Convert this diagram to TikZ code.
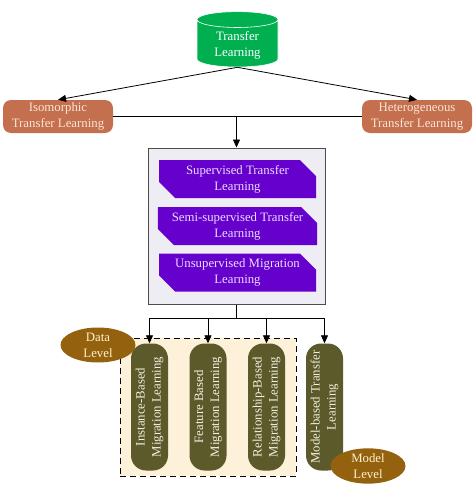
\documentclass[tikz,border=0pt]{standalone}
\usepackage{fontspec}
\setmainfont{Liberation Serif}
\usetikzlibrary{positioning, shapes.geometric, shapes.misc, arrows.meta}
\definecolor{dbgreen}{HTML}{00B050}
\definecolor{clay}{HTML}{C4704F}
\definecolor{clayText}{HTML}{FBE5D6}
\definecolor{violet}{HTML}{6600CC}
\definecolor{violetText}{HTML}{EBDDFF}
\definecolor{lavender}{HTML}{EEEDF3}
\definecolor{cream}{HTML}{FDF2D9}
\definecolor{moss}{HTML}{5C5A2B}
\definecolor{mossText}{HTML}{F2F0DE}
\definecolor{ochre}{HTML}{94620E}
\definecolor{ochreText}{HTML}{FFF2CC}
\tikzset{
every node/.style={font=\fontsize{12.8}{16}\selectfont, align=center},
db/.style={cylinder, shape border rotate=90, aspect=0.3, draw=white, line width=0.6pt,
  fill=dbgreen, text=white, minimum width=81pt, minimum height=52pt},
branch/.style={rounded corners=8pt, fill=clay, text=clayText, minimum width=110pt, minimum height=33pt, inner sep=1pt},
kind/.style={chamfered rectangle, chamfered rectangle corners={north east, south west},
  chamfered rectangle xsep=13pt, fill=violet, text=violetText, minimum width=157pt, minimum height=38pt, inner sep=1pt},
method/.style={rotate=90, rounded corners=15pt, fill=moss, text=mossText, minimum width=127pt, minimum height=37pt, inner sep=1pt},
level/.style={ellipse, fill=ochre, text=ochreText, minimum width=75pt, minimum height=35pt, inner sep=0pt},
arrow/.style={-{Triangle[length=8pt, width=7pt]}, line width=0.8pt},
}

\begin{document}
\begin{tikzpicture}[x=1pt, y=-1pt]
    \useasboundingbox (0,0) rectangle (474,488);

    %top
    \node[db] (root) at (237.5,45) {Transfer\\Learning};

    %two branches
    \node[branch] (iso) at (58,116.5) {Isomorphic\\Transfer Learning};
    \node[branch] (het) at (417,116.5) {Heterogeneous\\Transfer Learning};

    %group of kinds
    \node[draw=gray!60!black, line width=1pt, fill=lavender, minimum width=177pt, minimum height=156pt] (group) at (236.5,226) {};
    \node[kind] (sup)   at (237.5,179) {Supervised Transfer\\Learning};
    \node[kind] (semi)  at (237.5,226) {Semi-supervised Transfer\\Learning};
    \node[kind] (unsup) at (237.5,272.5) {Unsupervised Migration\\Learning};

    %data level zone
    \node[draw, dashed, dash pattern=on 6pt off 4pt, line width=1pt, fill=cream, minimum width=176pt, minimum height=138pt] (zone) at (208,407) {};

    %methods (rotated, so east is the top)
    \node[method] (inst)  at (149.5,407) {Instance-Based\\Migration Learning};
    \node[method] (feat)  at (208,407)   {Feature Based\\Migration Learning};
    \node[method] (rel)   at (266.5,407) {Relationship-Based\\Migration Learning};
    \node[method] (model) at (324.5,407) {Model-based Transfer\\Learning};

    %levels
    \node[level] (datalv)  at (98,345)  {Data\\Level};
    \node[level] (modellv) at (368,466) {Model\\Level};

    %root to branches
    \draw[arrow] (root.south) -- (iso.north);
    \draw[arrow] (root.south) -- (het.north);

    %branches to group
    \draw[line width=0.8pt] (iso.east) -- (het.west);
    \draw[arrow] (iso.east -| group) -- (group.north);

    %group to methods
    \coordinate (split) at (236.5,318);
    \draw[line width=0.8pt] (group.south) -- (split);
    \draw[line width=0.8pt] (split -| inst) -- (split -| model);
    \draw[arrow] (split -| inst)  -- (inst.east);
    \draw[arrow] (split -| feat)  -- (feat.east);
    \draw[arrow] (split -| rel)   -- (rel.east);
    \draw[arrow] (split -| model) -- (model.east);

\end{tikzpicture}
\end{document}
